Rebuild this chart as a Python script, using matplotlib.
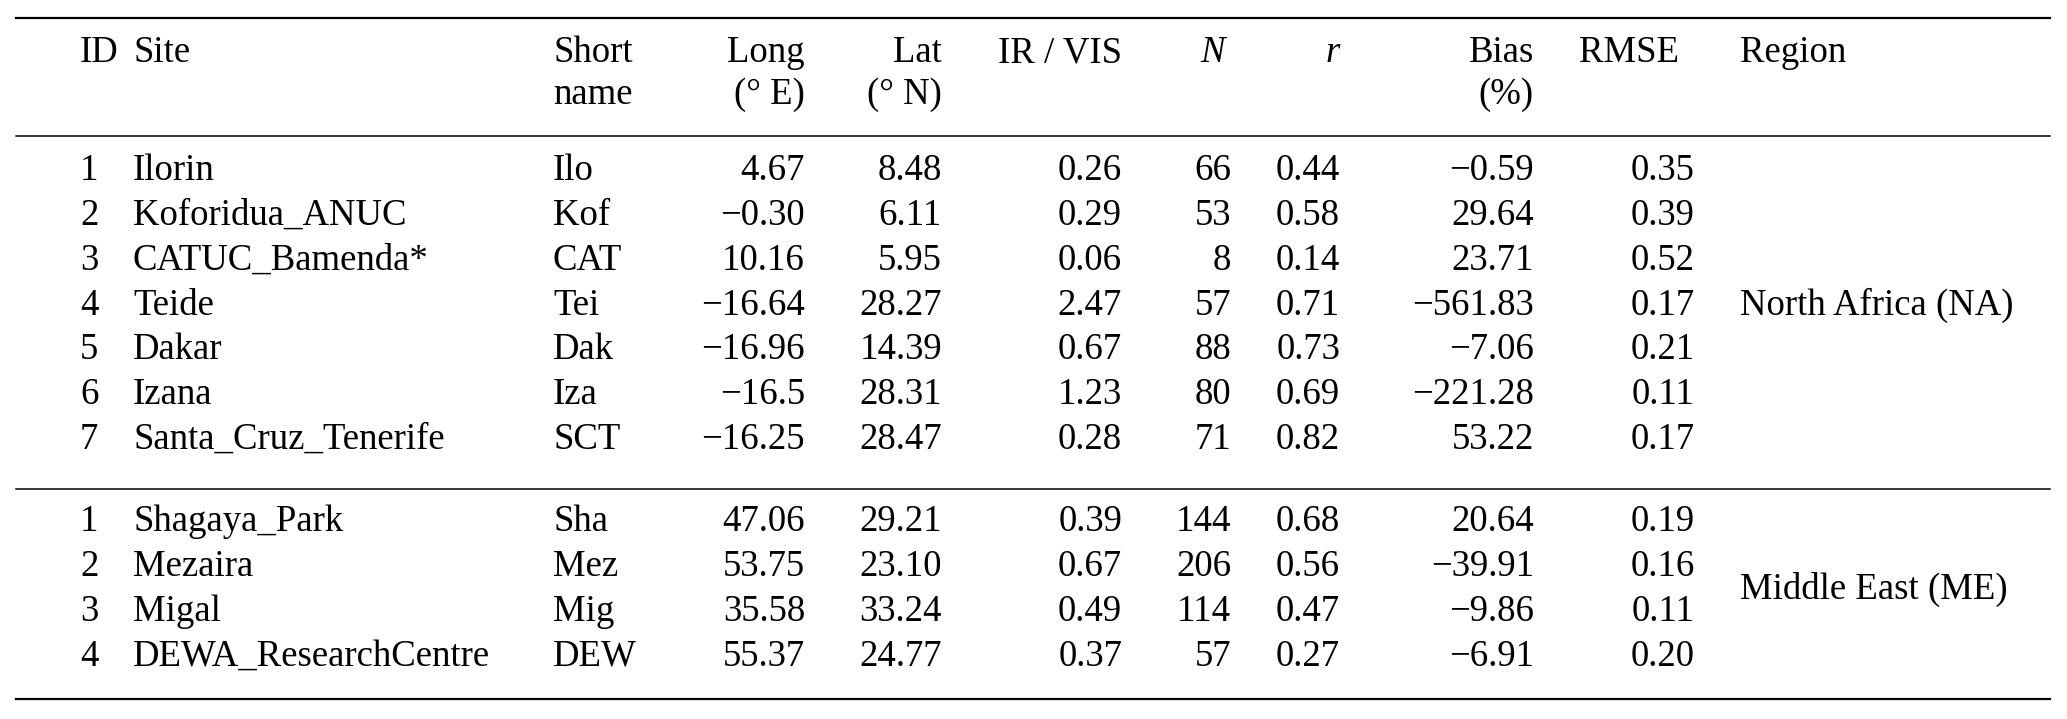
import matplotlib.pyplot as plt

plt.rcParams['font.family'] = ['Liberation Serif', 'DejaVu Serif']

ids_na = ['1', '2', '3', '4', '5', '6', '7']
sites_na = ['Ilorin', 'Koforidua_ANUC', 'CATUC_Bamenda*', 'Teide', 'Dakar', 'Izana',
            'Santa_Cruz_Tenerife']
short_na = ['Ilo', 'Kof', 'CAT', 'Tei', 'Dak', 'Iza', 'SCT']
long_na = ['4.67', '\u22120.30', '10.16', '\u221216.64', '\u221216.96', '\u221216.5', '\u221216.25']
lat_na = ['8.48', '6.11', '5.95', '28.27', '14.39', '28.31', '28.47']
irvis_na = ['0.26', '0.29', '0.06', '2.47', '0.67', '1.23', '0.28']
n_na = ['66', '53', '8', '57', '88', '80', '71']
r_na = ['0.44', '0.58', '0.14', '0.71', '0.73', '0.69', '0.82']
bias_na = ['\u22120.59', '29.64', '23.71', '\u2212561.83', '\u22127.06', '\u2212221.28', '53.22']
rmse_na = ['0.35', '0.39', '0.52', '0.17', '0.21', '0.11', '0.17']

ids_me = ['1', '2', '3', '4']
sites_me = ['Shagaya_Park', 'Mezaira', 'Migal', 'DEWA_ResearchCentre']
short_me = ['Sha', 'Mez', 'Mig', 'DEW']
long_me = ['47.06', '53.75', '35.58', '55.37']
lat_me = ['29.21', '23.10', '33.24', '24.77']
irvis_me = ['0.39', '0.67', '0.49', '0.37']
n_me = ['144', '206', '114', '57']
r_me = ['0.68', '0.56', '0.47', '0.27']
bias_me = ['20.64', '\u221239.91', '\u22129.86', '\u22126.91']
rmse_me = ['0.19', '0.16', '0.11', '0.20']

regions = ['North Africa (NA)', 'Middle East (ME)']

W, H = 2067, 719
fig = plt.figure(figsize=(W / 100, H / 100), dpi=100)
ax = fig.add_axes([0, 0, 1, 1])
ax.set_xlim(0, W)
ax.set_ylim(H, 0)
ax.axis('off')

fs = 26.5
# column x positions and alignment
cols = [(80, 'left'), (133, 'left'), (553, 'left'), (805, 'right'), (942, 'right'),
        (1122, 'right'), (1231, 'right'), (1340, 'right'), (1534, 'right'), (1663, 'center')]

x0, x1 = 16, 2050
ax.plot([x0, x1], [18, 18], color='black', lw=1.6)
ax.plot([x0, x1], [136, 136], color='black', lw=1.1)
ax.plot([x0, x1], [489, 489], color='black', lw=1.1)
ax.plot([x0, x1], [699, 699], color='black', lw=1.6)

# header
h1 = ['ID', 'Site', 'Short', 'Long', 'Lat', 'IR / VIS', 'N', 'r', 'Bias', 'RMSE']
h2 = ['', '', 'name', '(\u00b0 E)', '(\u00b0 N)', '', '', '', '(%)', '']
for (x, ha), a, b in zip(cols, h1, h2):
    style = 'italic' if a in ('N', 'r') else 'normal'
    if a == 'N':
        x, ha = 1213, 'center'
    if a == 'RMSE':
        x, ha = 1629, 'center'
    ax.text(x, 53, a, ha=ha, va='center', fontsize=fs, style=style)
    if b:
        ax.text(x, 95, b, ha=ha, va='center', fontsize=fs)
ax.text(1740, 53, 'Region', ha='left', va='center', fontsize=fs)

step = 44.8


def draw_block(y0, columns, region):
    n = len(columns[0])
    for i in range(n):
        y = y0 + i * step
        for (x, ha), col in zip(cols, columns):
            ax.text(x, y, col[i], ha=ha, va='center', fontsize=fs)
    ax.text(1740, y0 + (n - 1) * step / 2, region, ha='left', va='center', fontsize=fs)


draw_block(171, [ids_na, sites_na, short_na, long_na, lat_na, irvis_na, n_na, r_na,
                 bias_na, rmse_na], regions[0])
draw_block(522, [ids_me, sites_me, short_me, long_me, lat_me, irvis_me, n_me, r_me,
                 bias_me, rmse_me], regions[1])

fig.savefig('out.png', dpi=100)
